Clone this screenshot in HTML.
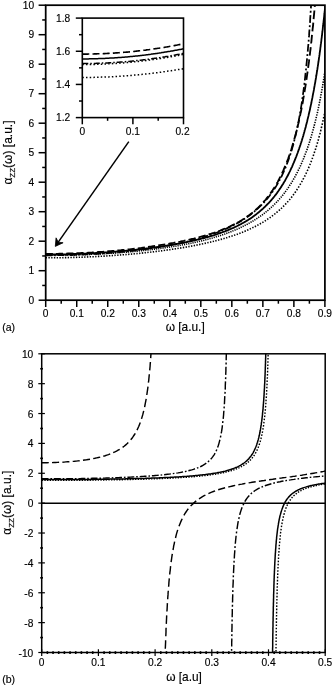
<!DOCTYPE html>
<html><head><meta charset="utf-8"><title>Polarizability plots</title>
<style>html,body{margin:0;padding:0;background:#fff;}svg{display:block;}.t text{font-family:"Liberation Sans",sans-serif;}</style></head>
<body><svg width="333" height="685" viewBox="0 0 333 685"><g id="plotA" fill="none" stroke="#000" stroke-linecap="butt">
<clipPath id="clipA"><rect x="45.7" y="5.2" width="279.2" height="295.0"/></clipPath>
<g clip-path="url(#clipA)">
<path d="M45.7,253.9L47.5,253.9L49.3,253.9L51.1,253.8L52.9,253.8M55.9,253.8L57.7,253.8L59.5,253.7L61.3,253.7L63.1,253.7M66.2,253.6L68.0,253.5L69.8,253.5L71.6,253.4L73.4,253.4M76.4,253.2L78.2,253.2L80.0,253.1L81.8,253.0L83.6,252.9M86.7,252.8L88.5,252.7L90.3,252.6L92.1,252.5L93.8,252.3M96.9,252.1L98.7,252.0L100.5,251.9L102.3,251.8L104.1,251.6M107.2,251.4L108.9,251.2L110.7,251.1L112.5,250.9L114.3,250.8M117.4,250.5L119.2,250.3L120.9,250.2L122.7,250.0L124.5,249.8M127.6,249.5L129.4,249.3L131.2,249.1L132.9,248.9L134.7,248.7M137.8,248.3L139.6,248.1L141.4,247.9L143.1,247.6L144.9,247.4M148.0,247.0L149.8,246.7L151.5,246.5L153.3,246.2L155.1,246.0M158.2,245.5L159.9,245.2L161.7,244.9L163.5,244.6L165.3,244.3M168.3,243.8L170.1,243.5L171.9,243.2L173.6,242.9L175.4,242.5M178.4,241.9L180.2,241.6L182.0,241.2L183.7,240.9L185.5,240.5M188.5,239.8L190.3,239.4L192.1,239.0L193.8,238.6L195.6,238.1M198.6,237.4L200.3,236.9L202.1,236.4L203.8,235.9L205.6,235.4M208.6,234.5L210.3,234.0L212.0,233.4L213.8,232.9L215.5,232.3M218.4,231.2L220.1,230.6L221.8,229.9L223.5,229.2L225.2,228.5M228.1,227.3L229.8,226.5L231.5,225.7L233.1,224.9L234.8,224.1M237.6,222.6L239.2,221.7L240.8,220.7L242.4,219.8L244.0,218.7M246.7,216.9L248.3,215.9L249.8,214.7L251.3,213.6L252.8,212.4M255.3,210.2L256.7,209.0L258.2,207.6L259.5,206.3L260.9,204.9M263.2,202.4L264.5,201.0L265.8,199.5L267.0,197.9L268.3,196.3M270.3,193.6L271.5,191.9L272.6,190.3L273.7,188.6L274.8,186.9M276.6,183.8L277.6,182.1L278.6,180.3L279.5,178.4L280.4,176.6M282.0,173.4L282.9,171.5L283.7,169.6L284.5,167.7L285.3,165.8M286.7,162.5L287.4,160.5L288.2,158.6L288.9,156.6L289.6,154.6M290.7,151.2L291.4,149.2L292.0,147.2L292.6,145.1L293.2,143.1M294.2,139.6L294.8,137.6L295.3,135.5L295.9,133.5L296.4,131.4M297.3,127.9L297.8,125.8L298.3,123.7L298.7,121.7L299.2,119.6M300.0,116.0L300.4,113.9L300.9,111.8L301.3,109.8L301.7,107.7M302.4,104.1L302.8,102.0L303.1,99.9L303.5,97.7L303.9,95.6M304.5,92.0L304.8,89.9L305.2,87.8L305.5,85.7L305.9,83.6M306.4,79.9L306.7,77.8L307.0,75.7L307.3,73.6L307.6,71.5M308.1,67.8L308.4,65.7L308.7,63.6L309.0,61.4L309.2,59.3M309.7,55.7L310.0,53.5L310.2,51.4L310.5,49.3L310.7,47.1M311.1,43.5L311.4,41.3L311.6,39.2L311.8,37.1L312.0,34.9M312.4,31.3L312.6,29.1L312.9,27.0L313.1,24.9L313.3,22.7M313.6,19.1L313.8,16.9L314.0,14.8L314.2,12.6L314.4,10.5M314.7,6.8L314.9,4.7L315.1,2.6L315.3,0.4L315.5,-1.7M315.8,-5.4L315.9,-7.4L316.1,-9.4L316.2,-11.4" stroke-width="1.85"/>
<path d="M45.7,255.3L47.3,255.3L48.9,255.3L50.6,255.3L52.2,255.3M54.2,255.3L55.8,255.3M57.8,255.2L59.4,255.2L61.0,255.2L62.7,255.2L64.3,255.1M66.3,255.1L67.9,255.0M69.9,255.0L71.5,255.0L73.1,254.9L74.7,254.8L76.4,254.8M78.4,254.7L79.9,254.7M81.9,254.6L83.6,254.5L85.2,254.4L86.8,254.4L88.4,254.3M90.4,254.2L92.0,254.1M94.0,254.0L95.6,253.9L97.3,253.8L98.9,253.7L100.5,253.6M102.5,253.5L104.1,253.4M106.1,253.2L107.7,253.1L109.3,253.0L110.9,252.9L112.6,252.7M114.6,252.6L116.1,252.4M118.1,252.3L119.8,252.1L121.4,252.0L123.0,251.8L124.6,251.6M126.6,251.4L128.2,251.3M130.2,251.1L131.8,250.9L133.4,250.7L135.0,250.5L136.7,250.3M138.6,250.1L140.2,249.9M142.2,249.7L143.8,249.4L145.4,249.2L147.1,249.0L148.7,248.8M150.7,248.5L152.2,248.3M154.2,248.0L155.8,247.7L157.4,247.5L159.0,247.2L160.7,247.0M162.6,246.6L164.2,246.3M166.2,246.0L167.8,245.7L169.4,245.4L171.0,245.1L172.6,244.8M174.6,244.4L176.1,244.1M178.1,243.7L179.7,243.3L181.3,243.0L182.9,242.6L184.5,242.3M186.5,241.8L188.0,241.4M190.0,240.9L191.6,240.5L193.1,240.1L194.7,239.7L196.3,239.3M198.3,238.7L199.8,238.3M201.8,237.7L203.3,237.2L204.9,236.7L206.5,236.2L208.0,235.7M210.0,235.1L211.5,234.6M213.4,233.9L215.0,233.3L216.5,232.7L218.1,232.1L219.6,231.5M221.5,230.8L223.0,230.1M224.9,229.3L226.4,228.6L227.9,227.9L229.4,227.2L230.9,226.5M232.8,225.6L234.2,224.8M236.1,223.8L237.5,223.0L239.0,222.2L240.5,221.3L241.9,220.4M243.7,219.3L245.1,218.4M246.8,217.2L248.2,216.2L249.6,215.2L251.0,214.2L252.3,213.1M254.0,211.8L255.3,210.7M256.9,209.3L258.2,208.1L259.5,206.9L260.8,205.7L262.0,204.5M263.5,202.9L264.7,201.6M266.1,200.0L267.3,198.6L268.4,197.2L269.6,195.8L270.6,194.3M272.0,192.5L273.0,191.1M274.2,189.2L275.2,187.7L276.2,186.1L277.1,184.5L278.1,182.9M279.2,180.9L280.0,179.3M281.1,177.3L281.9,175.6L282.7,173.9L283.5,172.2L284.3,170.5M285.2,168.3L285.9,166.6M286.7,164.5L287.4,162.7L288.1,160.9L288.7,159.1L289.3,157.3M290.1,155.1L290.7,153.3M291.4,151.1L291.9,149.2L292.4,147.4L293.0,145.5L293.5,143.7M294.1,141.4L294.5,139.6M295.1,137.3L295.6,135.4L296.0,133.5L296.4,131.7L296.9,129.8M297.4,127.4L297.7,125.6M298.2,123.3L298.6,121.4L298.9,119.5L299.3,117.6L299.6,115.7M300.1,113.3L300.4,111.5M300.8,109.1L301.1,107.2L301.4,105.3L301.7,103.4L302.0,101.4M302.3,99.1L302.6,97.2M302.9,94.8L303.2,92.9L303.5,91.0L303.7,89.1L304.0,87.1M304.3,84.8L304.5,82.9M304.8,80.5L305.0,78.6L305.2,76.6L305.4,74.7L305.6,72.8M305.9,70.4L306.1,68.5M306.3,66.1L306.5,64.2L306.7,62.3L306.9,60.3L307.1,58.4M307.3,56.0L307.5,54.1M307.7,51.7L307.9,49.8L308.0,47.8L308.2,45.9L308.4,44.0M308.6,41.6L308.7,39.7M308.9,37.3L309.1,35.4L309.2,33.4L309.3,31.5L309.5,29.5M309.7,27.1L309.8,25.2M310.0,22.9L310.1,20.9L310.2,19.0L310.3,17.0L310.5,15.1M310.6,12.7L310.7,10.8M310.9,8.4L311.0,6.4L311.1,4.5L311.2,2.6L311.3,0.6M311.5,-1.8L311.6,-3.7M311.7,-6.1L311.8,-8.1L311.9,-10.2L312.1,-12.2" stroke-width="1.75"/>
<path d="M45.7,254.5L46.5,254.5L47.4,254.5L48.2,254.5L49.1,254.5L49.9,254.5L50.7,254.5L51.6,254.5L52.4,254.5L53.2,254.5L54.1,254.5L54.9,254.4L55.8,254.4L56.6,254.4L57.4,254.4L58.3,254.4L59.1,254.4L59.9,254.4L60.8,254.4L61.6,254.3L62.5,254.3L63.3,254.3L64.1,254.3L65.0,254.3L65.8,254.3L66.7,254.2L67.5,254.2L68.3,254.2L69.2,254.2L70.0,254.2L70.8,254.1L71.7,254.1L72.5,254.1L73.4,254.0L74.2,254.0L75.0,254.0L75.9,254.0L76.7,253.9L77.5,253.9L78.4,253.9L79.2,253.8L80.1,253.8L80.9,253.8L81.7,253.7L82.6,253.7L83.4,253.7L84.2,253.6L85.1,253.6L85.9,253.6L86.8,253.5L87.6,253.5L88.4,253.4L89.3,253.4L90.1,253.4L91.0,253.3L91.8,253.3L92.6,253.2L93.5,253.2L94.3,253.1L95.1,253.1L96.0,253.0L96.8,253.0L97.7,252.9L98.5,252.9L99.3,252.8L100.2,252.8L101.0,252.7L101.8,252.7L102.7,252.6L103.5,252.6L104.4,252.5L105.2,252.4L106.0,252.4L106.9,252.3L107.7,252.3L108.6,252.2L109.4,252.1L110.2,252.1L111.1,252.0L111.9,251.9L112.7,251.9L113.6,251.8L114.4,251.7L115.3,251.7L116.1,251.6L116.9,251.5L117.8,251.5L118.6,251.4L119.4,251.3L120.3,251.3L121.1,251.2L122.0,251.1L122.8,251.0L123.6,251.0L124.5,250.9L125.3,250.8L126.1,250.7L127.0,250.6L127.8,250.6L128.7,250.5L129.5,250.4L130.3,250.3L131.2,250.2L132.0,250.1L132.9,250.0L133.7,250.0L134.5,249.9L135.4,249.8L136.2,249.7L137.0,249.6L137.9,249.5L138.7,249.4L139.6,249.3L140.4,249.2L141.2,249.1L142.1,249.0L142.9,248.9L143.7,248.8L144.6,248.7L145.4,248.6L146.3,248.5L147.1,248.4L147.9,248.3L148.8,248.2L149.6,248.1L150.5,248.0L151.3,247.9L152.1,247.8L153.0,247.7L153.8,247.6L154.6,247.4L155.5,247.3L156.3,247.2L157.2,247.1L158.0,247.0L158.8,246.9L159.7,246.7L160.5,246.6L161.3,246.5L162.2,246.4L163.0,246.2L163.9,246.1L164.7,246.0L165.5,245.8L166.4,245.7L167.2,245.6L168.1,245.4L168.9,245.3L169.7,245.2L170.6,245.0L171.4,244.9L172.2,244.8L173.1,244.6L173.9,244.5L174.8,244.3L175.6,244.2L176.4,244.0L177.3,243.9L178.1,243.7L178.9,243.6L179.8,243.4L180.6,243.2L181.5,243.1L182.3,242.9L183.1,242.8L184.0,242.6L184.8,242.4L185.6,242.3L186.5,242.1L187.3,241.9L188.2,241.7L189.0,241.6L189.8,241.4L190.7,241.2L191.5,241.0L192.4,240.8L193.2,240.6L194.0,240.5L194.9,240.3L195.7,240.1L196.5,239.9L197.4,239.7L198.2,239.5L199.1,239.3L199.9,239.1L200.7,238.8L201.6,238.6L202.4,238.4L203.2,238.2L204.1,238.0L204.9,237.8L205.8,237.5L206.6,237.3L207.4,237.1L208.3,236.8L209.1,236.6L210.0,236.3L210.8,236.1L211.6,235.8L212.5,235.6L213.3,235.3L214.1,235.1L215.0,234.8L215.8,234.5L216.7,234.3L217.5,234.0L218.3,233.7L219.2,233.4L220.0,233.1L220.8,232.8L221.7,232.5L222.5,232.2L223.4,231.9L224.2,231.6L225.0,231.3L225.9,230.9L226.7,230.6L227.6,230.3L228.4,229.9L229.2,229.6L230.1,229.2L230.9,228.9L231.7,228.5L232.6,228.1L233.4,227.8L234.3,227.4L235.1,227.0L235.9,226.6L236.8,226.2L237.6,225.8L238.4,225.4L239.3,224.9L240.1,224.5L241.0,224.1L241.8,223.6L242.6,223.1L243.5,222.7L244.2,222.3L244.9,221.9L245.6,221.5L246.3,221.0L247.0,220.6L247.7,220.2L248.4,219.8L249.1,219.3L249.8,218.9L250.5,218.4L251.2,217.9L251.9,217.4L252.6,217.0L253.2,216.5L253.9,216.0L254.6,215.5L255.3,214.9L256.0,214.4L256.7,213.9L257.4,213.3L258.1,212.8L258.8,212.2L259.5,211.6L260.2,211.0L260.9,210.4L261.6,209.8L262.3,209.2L263.0,208.6L263.7,207.9L264.4,207.3L265.1,206.6L265.8,205.9L266.5,205.2L267.2,204.5L267.8,203.9L268.3,203.4L268.9,202.8L269.5,202.2L270.0,201.5L270.6,200.9L271.1,200.3L271.7,199.6L272.2,199.0L272.8,198.3L273.4,197.6L273.9,197.0L274.5,196.3L275.0,195.5L275.6,194.8L276.2,194.1L276.7,193.3L277.3,192.6L277.8,191.8L278.4,191.0L278.9,190.2L279.5,189.4L280.1,188.6L280.6,187.7L281.2,186.9L281.7,186.0L282.3,185.1L282.9,184.2L283.3,183.5L283.7,182.8L284.1,182.1L284.5,181.4L285.0,180.7L285.4,179.9L285.8,179.2L286.2,178.4L286.6,177.6L287.0,176.9L287.5,176.1L287.9,175.3L288.3,174.5L288.7,173.6L289.1,172.8L289.6,171.9L290.0,171.1L290.4,170.2L290.8,169.3L291.2,168.4L291.7,167.5L292.1,166.6L292.5,165.6L292.9,164.7L293.3,163.7L293.8,162.7L294.2,161.7L294.6,160.7L295.0,159.7L295.4,158.6L295.8,157.6L296.3,156.5L296.7,155.4L297.1,154.3L297.4,153.5L297.7,152.8L297.9,152.0L298.2,151.2L298.5,150.4L298.8,149.6L299.1,148.8L299.3,148.0L299.6,147.2L299.9,146.4L300.2,145.5L300.5,144.7L300.7,143.8L301.0,143.0L301.3,142.1L301.6,141.2L301.9,140.3L302.1,139.4L302.4,138.5L302.7,137.6L303.0,136.6L303.3,135.7L303.5,134.7L303.8,133.8L304.1,132.8L304.4,131.8L304.6,130.8L304.9,129.8L305.2,128.7L305.5,127.7L305.8,126.7L306.0,125.6L306.3,124.5L306.6,123.4L306.9,122.3L307.2,121.2L307.4,120.1L307.7,118.9L308.0,117.8L308.3,116.6L308.6,115.4L308.8,114.2L309.1,113.0L309.4,111.8L309.7,110.6L310.0,109.3L310.2,108.0L310.5,106.7L310.8,105.4L311.1,104.1L311.4,102.8L311.6,101.4L311.9,100.0L312.2,98.6L312.5,97.2L312.7,95.8L313.0,94.3L313.3,92.9L313.6,91.4L313.9,89.9L314.1,88.3L314.4,86.8L314.7,85.2L314.8,84.4L315.0,83.6L315.1,82.8L315.3,82.0L315.4,81.2L315.5,80.4L315.7,79.6L315.8,78.7L316.0,77.9L316.1,77.0L316.2,76.2L316.4,75.3L316.5,74.5L316.7,73.6L316.8,72.7L316.9,71.9L317.1,71.0L317.2,70.1L317.4,69.2L317.5,68.3L317.6,67.4L317.8,66.4L317.9,65.5L318.1,64.6L318.2,63.7L318.3,62.7L318.5,61.8L318.6,60.8L318.8,59.8L318.9,58.9L319.0,57.9L319.2,56.9L319.3,55.9L319.5,54.9L319.6,53.9L319.7,52.9L319.9,51.8L320.0,50.8L320.2,49.8L320.3,48.7L320.4,47.7L320.6,46.6L320.7,45.5L320.8,44.4L321.0,43.4L321.1,42.3L321.3,41.2L321.4,40.0L321.5,38.9L321.7,37.8L321.8,36.7L322.0,35.5L322.1,34.3L322.2,33.2L322.4,32.0L322.5,30.8L322.7,29.6L322.8,28.4L322.9,27.2L323.1,26.0L323.2,24.7L323.4,23.5L323.5,22.2L323.6,21.0L323.8,19.7L323.9,18.4L324.1,17.1L324.2,15.8L324.3,14.5L324.5,13.2L324.6,11.8L324.8,10.5L324.9,9.1" stroke-width="1.8"/>
<path d="M45.7,255.3L46.9,255.3M47.9,255.3L49.0,255.3M50.0,255.3L51.2,255.3M52.2,255.3L53.4,255.3M54.4,255.3L55.5,255.3M56.5,255.3L57.7,255.3M58.7,255.2L59.9,255.2M60.9,255.2L62.0,255.2M63.0,255.2L64.2,255.2M65.2,255.2L66.4,255.1M67.4,255.1L68.5,255.1M69.5,255.1L70.7,255.0M71.7,255.0L72.9,255.0M73.9,255.0L75.0,254.9M76.0,254.9L77.2,254.9M78.2,254.8L79.4,254.8M80.4,254.8L81.5,254.7M82.5,254.7L83.7,254.6M84.7,254.6L85.9,254.6M86.9,254.5L88.0,254.5M89.0,254.4L90.2,254.4M91.2,254.3L92.4,254.3M93.4,254.2L94.5,254.2M95.5,254.1L96.7,254.1M97.7,254.0L98.9,254.0M99.8,253.9L101.0,253.9M102.0,253.8L103.2,253.7M104.2,253.7L105.3,253.6M106.3,253.6L107.5,253.5M108.5,253.4L109.7,253.3M110.7,253.3L111.8,253.2M112.8,253.1L114.0,253.1M115.0,253.0L116.2,252.9M117.2,252.8L118.3,252.8M119.3,252.7L120.5,252.6M121.5,252.5L122.6,252.4M123.6,252.3L124.8,252.2M125.8,252.2L127.0,252.1M128.0,252.0L129.1,251.9M130.1,251.8L131.3,251.7M132.3,251.6L133.5,251.5M134.5,251.4L135.6,251.3M136.6,251.2L137.8,251.1M138.8,251.0L139.9,250.8M140.9,250.7L142.1,250.6M143.1,250.5L144.2,250.4M145.2,250.3L146.4,250.2M147.4,250.0L148.6,249.9M149.6,249.8L150.7,249.7M151.7,249.5L152.9,249.4M153.9,249.3L155.0,249.1M156.0,249.0L157.2,248.8M158.2,248.7L159.3,248.6M160.3,248.4L161.5,248.3M162.5,248.1L163.6,248.0M164.6,247.8L165.8,247.7M166.8,247.5L167.9,247.3M168.9,247.2L170.1,247.0M171.1,246.8L172.2,246.7M173.2,246.5L174.4,246.3M175.4,246.2L176.5,246.0M177.5,245.8L178.7,245.6M179.7,245.4L180.8,245.2M181.8,245.0L183.0,244.8M184.0,244.6L185.1,244.4M186.1,244.2L187.2,244.0M188.2,243.8L189.4,243.6M190.4,243.4L191.5,243.1M192.5,242.9L193.6,242.7M194.6,242.5L195.8,242.2M196.8,242.0L197.9,241.7M198.9,241.5L200.0,241.2M201.0,241.0L202.2,240.7M203.1,240.5L204.3,240.2M205.3,239.9L206.4,239.6M207.4,239.4L208.5,239.1M209.5,238.8L210.6,238.5M211.6,238.2L212.7,237.9M213.7,237.6L214.8,237.3M215.8,237.0L216.9,236.6M217.9,236.3L219.0,236.0M220.0,235.7L221.1,235.3M222.1,235.0L223.2,234.6M224.2,234.3L225.3,233.9M226.2,233.5L227.4,233.1M228.3,232.8L229.4,232.3M230.4,232.0L231.5,231.5M232.4,231.1L233.5,230.7M234.5,230.3L235.6,229.8M236.5,229.4L237.6,229.0M238.6,228.5L239.7,228.0M240.6,227.6L241.7,227.1M242.6,226.6L243.7,226.1M244.6,225.6L245.7,225.1M246.6,224.6L247.7,224.0M248.6,223.5L249.6,223.0M250.5,222.4L251.6,221.8M252.5,221.3L253.5,220.7M254.4,220.1L255.4,219.5M256.3,218.9L257.4,218.3M258.2,217.7L259.2,217.0M260.1,216.4L261.1,215.7M262.0,215.0L263.0,214.3M263.8,213.7L264.8,212.9M265.6,212.2L266.6,211.5M267.4,210.8L268.4,210.0M269.2,209.3L270.1,208.4M270.9,207.7L271.8,206.9M272.6,206.1L273.5,205.3M274.3,204.5L275.2,203.6M276.0,202.8L276.9,201.9M277.6,201.1L278.5,200.2M279.2,199.3L280.0,198.4M280.8,197.5L281.6,196.6M282.3,195.7L283.1,194.7M283.8,193.8L284.6,192.8M285.2,191.9L286.0,190.9M286.7,189.9L287.4,188.9M288.1,188.0L288.8,186.9M289.4,185.9L290.1,184.8M290.8,183.9L291.5,182.8M292.0,181.8L292.7,180.7M293.3,179.7L294.0,178.5M294.5,177.5L295.2,176.4M295.7,175.4L296.3,174.2M296.9,173.2L297.5,172.0M298.0,170.9L298.6,169.7M299.1,168.7L299.7,167.5M300.2,166.4L300.7,165.2M301.2,164.1L301.7,162.9M302.2,161.8L302.7,160.6M303.2,159.5L303.7,158.3M304.1,157.2L304.6,155.9M305.0,154.8L305.5,153.6M305.9,152.5L306.4,151.2M306.8,150.1L307.3,148.8M307.6,147.7L308.1,146.4M308.5,145.3L308.9,144.0M309.3,142.9L309.7,141.5M310.0,140.4L310.4,139.1M310.8,138.0L311.2,136.7M311.5,135.5L311.9,134.2M312.2,133.1L312.6,131.8M312.9,130.6L313.3,129.3M313.6,128.1L313.9,126.8M314.2,125.7L314.6,124.3M314.9,123.2L315.2,121.8M315.5,120.7L315.8,119.3M316.1,118.2L316.4,116.8M316.7,115.7L317.0,114.3M317.3,113.2L317.6,111.8M317.8,110.7L318.1,109.3M318.4,108.2L318.6,106.8M318.9,105.6L319.2,104.3M319.4,103.1L319.7,101.7M319.9,100.6L320.2,99.2M320.4,98.0L320.7,96.7M320.9,95.5L321.1,94.1M321.4,93.0L321.6,91.6M321.8,90.4L322.1,89.1M322.3,87.9L322.5,86.5M322.7,85.3L322.9,84.0M323.1,82.8L323.3,81.4M323.5,80.2L323.8,78.9M323.9,77.7L324.2,76.3M324.3,75.1L324.6,73.8M324.7,72.6L324.9,71.4" stroke-width="1.6"/>
<path d="M45.7,257.8L47.0,257.8M48.4,257.8L49.8,257.8M51.2,257.8L52.5,257.8M53.9,257.8L55.3,257.8M56.7,257.7L58.0,257.7M59.4,257.7L60.8,257.7M62.2,257.7L63.5,257.6M64.9,257.6L66.3,257.6M67.7,257.6L69.0,257.5M70.4,257.5L71.8,257.5M73.2,257.4L74.5,257.4M75.9,257.4L77.3,257.3M78.7,257.3L80.0,257.2M81.4,257.2L82.8,257.1M84.2,257.1L85.5,257.0M86.9,257.0L88.3,256.9M89.7,256.8L91.0,256.8M92.4,256.7L93.8,256.7M95.2,256.6L96.5,256.5M97.9,256.4L99.3,256.4M100.7,256.3L102.0,256.2M103.4,256.1L104.8,256.1M106.2,256.0L107.5,255.9M108.9,255.8L110.3,255.7M111.7,255.6L113.0,255.5M114.4,255.4L115.7,255.3M117.2,255.2L118.5,255.1M119.9,255.0L121.2,254.9M122.6,254.8L124.0,254.7M125.4,254.6L126.7,254.5M128.1,254.4L129.5,254.3M130.9,254.1L132.2,254.0M133.6,253.9L134.9,253.8M136.4,253.6L137.7,253.5M139.1,253.4L140.4,253.2M141.8,253.1L143.2,252.9M144.6,252.8L145.9,252.6M147.3,252.5L148.6,252.3M150.1,252.2L151.4,252.0M152.8,251.9L154.1,251.7M155.5,251.5L156.9,251.4M158.3,251.2L159.6,251.0M161.0,250.9L162.3,250.7M163.7,250.5L165.1,250.3M166.5,250.1L167.8,249.9M169.2,249.7L170.5,249.6M171.9,249.3L173.3,249.1M174.7,248.9L176.0,248.7M177.4,248.5L178.7,248.3M180.1,248.1L181.4,247.9M182.8,247.6L184.2,247.4M185.6,247.2L186.9,246.9M188.3,246.7L189.6,246.4M191.0,246.2L192.3,245.9M193.7,245.7L195.0,245.4M196.4,245.1L197.7,244.9M199.1,244.6L200.5,244.3M201.8,244.0L203.2,243.7M204.6,243.4L205.9,243.1M207.3,242.8L208.6,242.5M210.0,242.2L211.3,241.9M212.7,241.5L214.0,241.2M215.3,240.9L216.6,240.5M218.0,240.2L219.3,239.8M220.7,239.4L222.0,239.1M223.4,238.7L224.7,238.3M226.1,237.9L227.3,237.5M228.7,237.0L230.0,236.6M231.4,236.2L232.7,235.8M234.0,235.3L235.3,234.9M236.7,234.4L237.9,233.9M239.3,233.4L240.6,232.9M241.9,232.4L243.2,231.9M244.5,231.4L245.8,230.8M247.1,230.3L248.4,229.7M249.7,229.1L250.9,228.5M252.3,227.9L253.5,227.3M254.8,226.7L256.0,226.0M257.3,225.4L258.5,224.7M259.8,224.0L261.0,223.3M262.3,222.6L263.5,221.8M264.8,221.1L265.9,220.3M267.2,219.5L268.3,218.7M269.6,217.9L270.7,217.1M271.9,216.2L273.1,215.4M274.3,214.4L275.4,213.5M276.5,212.6L277.6,211.7M278.8,210.7L279.9,209.7M281.0,208.7L282.0,207.7M283.1,206.6L284.1,205.6M285.2,204.5L286.2,203.4M287.3,202.3L288.2,201.2M289.3,200.0L290.2,198.9M291.2,197.7L292.1,196.5M293.1,195.2L293.9,194.0M294.9,192.8L295.7,191.5M296.6,190.2L297.4,189.0M298.3,187.6L299.1,186.3M299.9,184.9L300.7,183.6M301.5,182.2L302.3,180.9M303.0,179.5L303.7,178.1M304.5,176.7L305.2,175.3M305.9,173.8L306.5,172.5M307.2,171.0L307.9,169.6M308.5,168.1L309.1,166.6M309.8,165.1L310.3,163.7M310.9,162.1L311.5,160.7M312.1,159.1L312.6,157.7M313.2,156.1L313.7,154.6M314.2,153.1L314.7,151.6M315.3,150.0L315.7,148.5M316.2,146.9L316.7,145.4M317.2,143.8L317.6,142.3M318.1,140.7L318.5,139.2M318.9,137.6L319.3,136.0M319.8,134.4L320.2,132.9M320.6,131.3L320.9,129.7M321.3,128.1L321.7,126.5M322.1,124.9L322.4,123.4M322.8,121.7L323.1,120.2M323.5,118.5L323.8,117.0M324.2,115.3L324.5,113.8M324.8,112.1L324.9,111.7" stroke-width="1.6"/>
</g>
<rect x="45.7" y="5.2" width="279.2" height="295.0" stroke-width="1.75"/>
<line x1="38.60" y1="300.20" x2="45.70" y2="300.20" stroke-width="1.5"/>
<line x1="42.20" y1="285.45" x2="45.70" y2="285.45" stroke-width="1.5"/>
<line x1="38.60" y1="270.70" x2="45.70" y2="270.70" stroke-width="1.5"/>
<line x1="42.20" y1="255.95" x2="45.70" y2="255.95" stroke-width="1.5"/>
<line x1="38.60" y1="241.20" x2="45.70" y2="241.20" stroke-width="1.5"/>
<line x1="42.20" y1="226.45" x2="45.70" y2="226.45" stroke-width="1.5"/>
<line x1="38.60" y1="211.70" x2="45.70" y2="211.70" stroke-width="1.5"/>
<line x1="42.20" y1="196.95" x2="45.70" y2="196.95" stroke-width="1.5"/>
<line x1="38.60" y1="182.20" x2="45.70" y2="182.20" stroke-width="1.5"/>
<line x1="42.20" y1="167.45" x2="45.70" y2="167.45" stroke-width="1.5"/>
<line x1="38.60" y1="152.70" x2="45.70" y2="152.70" stroke-width="1.5"/>
<line x1="42.20" y1="137.95" x2="45.70" y2="137.95" stroke-width="1.5"/>
<line x1="38.60" y1="123.20" x2="45.70" y2="123.20" stroke-width="1.5"/>
<line x1="42.20" y1="108.45" x2="45.70" y2="108.45" stroke-width="1.5"/>
<line x1="38.60" y1="93.70" x2="45.70" y2="93.70" stroke-width="1.5"/>
<line x1="42.20" y1="78.95" x2="45.70" y2="78.95" stroke-width="1.5"/>
<line x1="38.60" y1="64.20" x2="45.70" y2="64.20" stroke-width="1.5"/>
<line x1="42.20" y1="49.45" x2="45.70" y2="49.45" stroke-width="1.5"/>
<line x1="38.60" y1="34.70" x2="45.70" y2="34.70" stroke-width="1.5"/>
<line x1="42.20" y1="19.95" x2="45.70" y2="19.95" stroke-width="1.5"/>
<line x1="38.60" y1="5.20" x2="45.70" y2="5.20" stroke-width="1.5"/>
<line x1="45.70" y1="300.20" x2="45.70" y2="307.00" stroke-width="1.5"/>
<line x1="61.21" y1="300.20" x2="61.21" y2="303.70" stroke-width="1.5"/>
<line x1="76.72" y1="300.20" x2="76.72" y2="307.00" stroke-width="1.5"/>
<line x1="92.23" y1="300.20" x2="92.23" y2="303.70" stroke-width="1.5"/>
<line x1="107.74" y1="300.20" x2="107.74" y2="307.00" stroke-width="1.5"/>
<line x1="123.26" y1="300.20" x2="123.26" y2="303.70" stroke-width="1.5"/>
<line x1="138.77" y1="300.20" x2="138.77" y2="307.00" stroke-width="1.5"/>
<line x1="154.28" y1="300.20" x2="154.28" y2="303.70" stroke-width="1.5"/>
<line x1="169.79" y1="300.20" x2="169.79" y2="307.00" stroke-width="1.5"/>
<line x1="185.30" y1="300.20" x2="185.30" y2="303.70" stroke-width="1.5"/>
<line x1="200.81" y1="300.20" x2="200.81" y2="307.00" stroke-width="1.5"/>
<line x1="216.32" y1="300.20" x2="216.32" y2="303.70" stroke-width="1.5"/>
<line x1="231.83" y1="300.20" x2="231.83" y2="307.00" stroke-width="1.5"/>
<line x1="247.34" y1="300.20" x2="247.34" y2="303.70" stroke-width="1.5"/>
<line x1="262.86" y1="300.20" x2="262.86" y2="307.00" stroke-width="1.5"/>
<line x1="278.37" y1="300.20" x2="278.37" y2="303.70" stroke-width="1.5"/>
<line x1="293.88" y1="300.20" x2="293.88" y2="307.00" stroke-width="1.5"/>
<line x1="309.39" y1="300.20" x2="309.39" y2="303.70" stroke-width="1.5"/>
<line x1="324.90" y1="300.20" x2="324.90" y2="307.00" stroke-width="1.5"/>
</g>
<g class="t" fill="#000" stroke="#000" stroke-width="0.15">
<text transform="translate(34.20,303.90)" font-size="10.2" text-anchor="end">0</text>
<text transform="translate(34.20,274.40)" font-size="10.2" text-anchor="end">1</text>
<text transform="translate(34.20,244.90)" font-size="10.2" text-anchor="end">2</text>
<text transform="translate(34.20,215.40)" font-size="10.2" text-anchor="end">3</text>
<text transform="translate(34.20,185.90)" font-size="10.2" text-anchor="end">4</text>
<text transform="translate(34.20,156.40)" font-size="10.2" text-anchor="end">5</text>
<text transform="translate(34.20,126.90)" font-size="10.2" text-anchor="end">6</text>
<text transform="translate(34.20,97.40)" font-size="10.2" text-anchor="end">7</text>
<text transform="translate(34.20,67.90)" font-size="10.2" text-anchor="end">8</text>
<text transform="translate(34.20,38.40)" font-size="10.2" text-anchor="end">9</text>
<text transform="translate(34.20,8.90)" font-size="10.2" text-anchor="end">10</text>
<text transform="translate(45.70,317.40)" font-size="10.2" text-anchor="middle">0</text>
<text transform="translate(76.72,317.40)" font-size="10.2" text-anchor="middle">0.1</text>
<text transform="translate(107.74,317.40)" font-size="10.2" text-anchor="middle">0.2</text>
<text transform="translate(138.77,317.40)" font-size="10.2" text-anchor="middle">0.3</text>
<text transform="translate(169.79,317.40)" font-size="10.2" text-anchor="middle">0.4</text>
<text transform="translate(200.81,317.40)" font-size="10.2" text-anchor="middle">0.5</text>
<text transform="translate(231.83,317.40)" font-size="10.2" text-anchor="middle">0.6</text>
<text transform="translate(262.86,317.40)" font-size="10.2" text-anchor="middle">0.7</text>
<text transform="translate(293.88,317.40)" font-size="10.2" text-anchor="middle">0.8</text>
<text transform="translate(324.90,317.40)" font-size="10.2" text-anchor="middle">0.9</text>
</g>
<g id="inset" fill="none" stroke="#000">
<clipPath id="clipI"><rect x="82.3" y="18.1" width="101.2" height="99.5"/></clipPath>
<g clip-path="url(#clipI)">
<path d="M82.3,54.1L83.3,54.1L84.3,54.1L85.4,54.1L86.4,54.1L87.4,54.1L88.4,54.0L89.5,54.0L90.5,54.0L91.5,54.0L92.5,54.0L93.5,54.0L94.6,53.9L95.6,53.9L96.6,53.9L97.6,53.8L98.7,53.8L99.7,53.8L100.7,53.7L101.7,53.7L102.7,53.7L103.8,53.6L104.8,53.6L105.8,53.5L106.8,53.5L107.9,53.4L108.9,53.4L109.9,53.3L110.9,53.3L111.9,53.2L113.0,53.1L114.0,53.1L115.0,53.0L116.0,52.9L117.1,52.9L118.1,52.8L119.1,52.7L120.1,52.6L121.1,52.6L122.2,52.5L123.2,52.4L124.2,52.3L125.2,52.2L126.3,52.1L127.3,52.1L128.3,52.0L129.3,51.9L130.3,51.8L131.4,51.7L132.4,51.6L133.4,51.5L134.4,51.4L135.5,51.2L136.5,51.1L137.5,51.0L138.5,50.9L139.5,50.8L140.6,50.7L141.6,50.6L142.6,50.4L143.6,50.3L144.7,50.2L145.7,50.1L146.7,49.9L147.7,49.8L148.7,49.7L149.8,49.5L150.8,49.4L151.8,49.2L152.8,49.1L153.9,48.9L154.9,48.8L155.9,48.6L156.9,48.5L157.9,48.3L159.0,48.2L160.0,48.0L161.0,47.9L162.0,47.7L163.1,47.5L164.1,47.4L165.1,47.2L166.1,47.0L167.1,46.9L168.2,46.7L169.2,46.5L170.2,46.3L171.2,46.1L172.3,46.0L173.3,45.8L174.3,45.6L175.3,45.4L176.3,45.2L177.4,45.0L178.4,44.8L179.4,44.6L180.4,44.4L181.5,44.2L182.5,44.0L183.5,43.8" stroke-width="1.6" stroke-dasharray="7,3.2"/>
<path d="M82.3,58.9L83.3,58.9L84.3,58.9L85.4,58.9L86.4,58.9L87.4,58.9L88.4,58.9L89.5,58.8L90.5,58.8L91.5,58.8L92.5,58.8L93.5,58.8L94.6,58.7L95.6,58.7L96.6,58.7L97.6,58.7L98.7,58.6L99.7,58.6L100.7,58.6L101.7,58.5L102.7,58.5L103.8,58.4L104.8,58.4L105.8,58.3L106.8,58.3L107.9,58.2L108.9,58.2L109.9,58.1L110.9,58.1L111.9,58.0L113.0,58.0L114.0,57.9L115.0,57.8L116.0,57.8L117.1,57.7L118.1,57.6L119.1,57.6L120.1,57.5L121.1,57.4L122.2,57.3L123.2,57.2L124.2,57.2L125.2,57.1L126.3,57.0L127.3,56.9L128.3,56.8L129.3,56.7L130.3,56.6L131.4,56.5L132.4,56.4L133.4,56.3L134.4,56.2L135.5,56.1L136.5,56.0L137.5,55.9L138.5,55.8L139.5,55.7L140.6,55.5L141.6,55.4L142.6,55.3L143.6,55.2L144.7,55.1L145.7,54.9L146.7,54.8L147.7,54.7L148.7,54.5L149.8,54.4L150.8,54.3L151.8,54.1L152.8,54.0L153.9,53.8L154.9,53.7L155.9,53.5L156.9,53.4L157.9,53.2L159.0,53.1L160.0,52.9L161.0,52.8L162.0,52.6L163.1,52.5L164.1,52.3L165.1,52.1L166.1,52.0L167.1,51.8L168.2,51.6L169.2,51.4L170.2,51.3L171.2,51.1L172.3,50.9L173.3,50.7L174.3,50.5L175.3,50.3L176.3,50.2L177.4,50.0L178.4,49.8L179.4,49.6L180.4,49.4L181.5,49.2L182.5,49.0L183.5,48.8" stroke-width="1.5"/>
<path d="M82.3,63.5L83.3,63.5L84.3,63.5L85.4,63.5L86.4,63.5L87.4,63.5L88.4,63.5L89.5,63.5L90.5,63.5L91.5,63.5L92.5,63.4L93.5,63.4L94.6,63.4L95.6,63.4L96.6,63.3L97.6,63.3L98.7,63.3L99.7,63.2L100.7,63.2L101.7,63.2L102.7,63.1L103.8,63.1L104.8,63.0L105.8,63.0L106.8,62.9L107.9,62.9L108.9,62.8L109.9,62.8L110.9,62.7L111.9,62.7L113.0,62.6L114.0,62.5L115.0,62.5L116.0,62.4L117.1,62.3L118.1,62.3L119.1,62.2L120.1,62.1L121.1,62.0L122.2,62.0L123.2,61.9L124.2,61.8L125.2,61.7L126.3,61.6L127.3,61.5L128.3,61.4L129.3,61.4L130.3,61.3L131.4,61.2L132.4,61.1L133.4,61.0L134.4,60.9L135.5,60.7L136.5,60.6L137.5,60.5L138.5,60.4L139.5,60.3L140.6,60.2L141.6,60.1L142.6,59.9L143.6,59.8L144.7,59.7L145.7,59.6L146.7,59.4L147.7,59.3L148.7,59.2L149.8,59.0L150.8,58.9L151.8,58.8L152.8,58.6L153.9,58.5L154.9,58.3L155.9,58.2L156.9,58.0L157.9,57.9L159.0,57.7L160.0,57.6L161.0,57.4L162.0,57.3L163.1,57.1L164.1,56.9L165.1,56.8L166.1,56.6L167.1,56.4L168.2,56.3L169.2,56.1L170.2,55.9L171.2,55.7L172.3,55.5L173.3,55.4L174.3,55.2L175.3,55.0L176.3,54.8L177.4,54.6L178.4,54.4L179.4,54.2L180.4,54.0L181.5,53.8L182.5,53.6L183.5,53.4" stroke-width="1.5" stroke-dasharray="6,2,1.5,2"/>
<path d="M82.3,64.5L83.3,64.5L84.3,64.5L85.4,64.5L86.4,64.5L87.4,64.5L88.4,64.5L89.5,64.5L90.5,64.5L91.5,64.4L92.5,64.4L93.5,64.4L94.6,64.4L95.6,64.4L96.6,64.3L97.6,64.3L98.7,64.3L99.7,64.2L100.7,64.2L101.7,64.2L102.7,64.1L103.8,64.1L104.8,64.0L105.8,64.0L106.8,63.9L107.9,63.9L108.9,63.8L109.9,63.8L110.9,63.7L111.9,63.7L113.0,63.6L114.0,63.5L115.0,63.5L116.0,63.4L117.1,63.3L118.1,63.3L119.1,63.2L120.1,63.1L121.1,63.0L122.2,63.0L123.2,62.9L124.2,62.8L125.2,62.7L126.3,62.6L127.3,62.5L128.3,62.4L129.3,62.3L130.3,62.3L131.4,62.2L132.4,62.1L133.4,62.0L134.4,61.8L135.5,61.7L136.5,61.6L137.5,61.5L138.5,61.4L139.5,61.3L140.6,61.2L141.6,61.1L142.6,60.9L143.6,60.8L144.7,60.7L145.7,60.6L146.7,60.4L147.7,60.3L148.7,60.2L149.8,60.0L150.8,59.9L151.8,59.8L152.8,59.6L153.9,59.5L154.9,59.3L155.9,59.2L156.9,59.0L157.9,58.9L159.0,58.7L160.0,58.6L161.0,58.4L162.0,58.3L163.1,58.1L164.1,57.9L165.1,57.8L166.1,57.6L167.1,57.4L168.2,57.3L169.2,57.1L170.2,56.9L171.2,56.7L172.3,56.5L173.3,56.4L174.3,56.2L175.3,56.0L176.3,55.8L177.4,55.6L178.4,55.4L179.4,55.2L180.4,55.0L181.5,54.8L182.5,54.6L183.5,54.4" stroke-width="1.5" stroke-dasharray="1.5,2.2"/>
<path d="M82.3,77.5L83.3,77.5L84.3,77.5L85.4,77.5L86.4,77.5L87.4,77.4L88.4,77.4L89.5,77.4L90.5,77.4L91.5,77.4L92.5,77.4L93.5,77.4L94.6,77.3L95.6,77.3L96.6,77.3L97.6,77.3L98.7,77.2L99.7,77.2L100.7,77.2L101.7,77.1L102.7,77.1L103.8,77.1L104.8,77.0L105.8,77.0L106.8,77.0L107.9,76.9L108.9,76.9L109.9,76.8L110.9,76.8L111.9,76.7L113.0,76.7L114.0,76.6L115.0,76.6L116.0,76.5L117.1,76.4L118.1,76.4L119.1,76.3L120.1,76.2L121.1,76.2L122.2,76.1L123.2,76.0L124.2,76.0L125.2,75.9L126.3,75.8L127.3,75.7L128.3,75.7L129.3,75.6L130.3,75.5L131.4,75.4L132.4,75.3L133.4,75.2L134.4,75.1L135.5,75.0L136.5,74.9L137.5,74.9L138.5,74.8L139.5,74.7L140.6,74.6L141.6,74.5L142.6,74.3L143.6,74.2L144.7,74.1L145.7,74.0L146.7,73.9L147.7,73.8L148.7,73.7L149.8,73.6L150.8,73.4L151.8,73.3L152.8,73.2L153.9,73.1L154.9,72.9L155.9,72.8L156.9,72.7L157.9,72.6L159.0,72.4L160.0,72.3L161.0,72.2L162.0,72.0L163.1,71.9L164.1,71.7L165.1,71.6L166.1,71.4L167.1,71.3L168.2,71.1L169.2,71.0L170.2,70.8L171.2,70.7L172.3,70.5L173.3,70.4L174.3,70.2L175.3,70.0L176.3,69.9L177.4,69.7L178.4,69.5L179.4,69.4L180.4,69.2L181.5,69.0L182.5,68.9L183.5,68.7" stroke-width="1.5" stroke-dasharray="1.5,2.2"/>
</g>
<rect x="82.3" y="18.1" width="101.2" height="99.5" stroke-width="1.6"/>
<line x1="75.80" y1="117.60" x2="82.30" y2="117.60" stroke-width="1.5"/>
<line x1="79.00" y1="101.02" x2="82.30" y2="101.02" stroke-width="1.5"/>
<line x1="75.80" y1="84.43" x2="82.30" y2="84.43" stroke-width="1.5"/>
<line x1="79.00" y1="67.85" x2="82.30" y2="67.85" stroke-width="1.5"/>
<line x1="75.80" y1="51.27" x2="82.30" y2="51.27" stroke-width="1.5"/>
<line x1="79.00" y1="34.68" x2="82.30" y2="34.68" stroke-width="1.5"/>
<line x1="75.80" y1="18.10" x2="82.30" y2="18.10" stroke-width="1.5"/>
<line x1="82.30" y1="117.60" x2="82.30" y2="124.30" stroke-width="1.5"/>
<line x1="107.60" y1="117.60" x2="107.60" y2="120.80" stroke-width="1.5"/>
<line x1="132.90" y1="117.60" x2="132.90" y2="124.30" stroke-width="1.5"/>
<line x1="158.20" y1="117.60" x2="158.20" y2="120.80" stroke-width="1.5"/>
<line x1="183.50" y1="117.60" x2="183.50" y2="124.30" stroke-width="1.5"/>
<line x1="128.8" y1="141.6" x2="57.02" y2="243.94" stroke-width="1.5"/>
<polygon points="55.30,246.40 63.10,242.77 58.29,242.14 56.06,237.83" fill="#000" stroke-width="0.8" stroke-linejoin="miter"/>
</g>
<g class="t" fill="#000" stroke="#000" stroke-width="0.15">
<text transform="translate(70.20,121.30)" font-size="10.2" text-anchor="end">1.2</text>
<text transform="translate(70.20,88.13)" font-size="10.2" text-anchor="end">1.4</text>
<text transform="translate(70.20,54.97)" font-size="10.2" text-anchor="end">1.6</text>
<text transform="translate(70.20,21.80)" font-size="10.2" text-anchor="end">1.8</text>
<text transform="translate(82.30,134.90)" font-size="10.2" text-anchor="middle">0</text>
<text transform="translate(132.90,134.90)" font-size="10.2" text-anchor="middle">0.1</text>
<text transform="translate(182.50,134.90)" font-size="10.2" text-anchor="middle">0.2</text>
</g>
<g class="t" fill="#000" stroke="#000" stroke-width="0.15">
<text transform="translate(11.90,184.60) rotate(-90)" font-size="12" text-anchor="start">α<tspan font-size="8" dy="2.6">ZZ</tspan><tspan dy="-2.6">(ω) [a.u.]</tspan></text>
<text transform="translate(185.20,330.80)" font-size="11.9" text-anchor="middle">ω [a.u.]</text>
<text transform="translate(2.20,330.80)" font-size="10.5" text-anchor="start">(a)</text>
</g>
<g id="plotB" fill="none" stroke="#000">
<clipPath id="clipB"><rect x="41.7" y="353.8" width="283.5" height="298.7"/></clipPath>
<g clip-path="url(#clipB)">
<path d="M41.7,462.7L43.5,462.7L45.2,462.7L47.0,462.7L48.8,462.6M52.0,462.6L53.8,462.5L55.6,462.5L57.3,462.4L59.1,462.3M62.4,462.2L64.1,462.1L65.9,461.9L67.7,461.8L69.4,461.7M72.7,461.4L74.4,461.3L76.2,461.1L78.0,460.9L79.7,460.7M83.0,460.3L84.7,460.0L86.5,459.8L88.2,459.5L90.0,459.2M93.2,458.6L94.9,458.3L96.7,457.9L98.4,457.5L100.2,457.1M103.3,456.2L105.1,455.7L106.8,455.1L108.5,454.6L110.2,453.9M113.2,452.7L114.9,451.9L116.5,451.1L118.1,450.2L119.7,449.3M122.6,447.4L124.1,446.3L125.5,445.1L127.0,443.8L128.3,442.5M130.7,439.8L132.0,438.3L133.1,436.7L134.2,435.0L135.3,433.3M137.0,430.1L137.9,428.2L138.8,426.3L139.5,424.4L140.3,422.5M141.5,418.9L142.1,416.9L142.7,414.9L143.2,412.9L143.7,410.8M144.6,407.1L145.0,405.0L145.4,402.9L145.8,400.9L146.2,398.8M146.8,395.0L147.1,392.9L147.4,390.8L147.7,388.7L148.0,386.6M148.4,382.7L148.7,380.6L148.9,378.5L149.1,376.4L149.3,374.3M149.7,370.4L149.9,368.3L150.1,366.2L150.2,364.1L150.4,362.0M150.7,358.1L150.8,355.9L151.0,353.8L151.1,351.7L151.3,349.6M151.5,345.7L151.5,345.0" stroke-width="1.45"/>
<path d="M164.9,661.1L165.0,658.9L165.1,656.8L165.1,654.7L165.2,652.6M165.3,648.7L165.4,646.6L165.5,644.4L165.6,642.3L165.6,640.2M165.8,636.3L165.9,634.2L166.0,632.0L166.0,629.9L166.1,627.8M166.3,623.9L166.4,621.8L166.5,619.7L166.6,617.5L166.7,615.4M166.9,611.5L167.1,609.4L167.2,607.3L167.3,605.2L167.4,603.1M167.7,599.2L167.8,597.0L168.0,594.9L168.1,592.8L168.3,590.7M168.6,586.8L168.8,584.7L168.9,582.6L169.1,580.5L169.3,578.4M169.7,574.5L169.9,572.4L170.2,570.3L170.4,568.2L170.6,566.1M171.1,562.2L171.4,560.1L171.7,558.0L172.0,555.9L172.3,553.8M173.0,550.0L173.4,547.9L173.7,545.9L174.2,543.8L174.6,541.7M175.5,538.0L176.0,535.9L176.5,533.9L177.1,531.9L177.7,529.9M179.0,526.3L179.7,524.4L180.5,522.5L181.3,520.6L182.2,518.7M183.9,515.4L184.9,513.7L186.0,512.0L187.1,510.4L188.3,508.8M190.6,506.1L192.0,504.7L193.4,503.4L194.8,502.1L196.2,500.9M199.0,498.8L200.6,497.8L202.1,496.9L203.7,495.9L205.4,495.1M208.4,493.6L210.0,492.9L211.7,492.2L213.4,491.5L215.1,490.9M218.2,489.8L219.9,489.3L221.6,488.8L223.4,488.3L225.1,487.8M228.3,487.0L230.0,486.6L231.7,486.2L233.5,485.8L235.2,485.4M238.4,484.7L240.2,484.4L241.9,484.1L243.7,483.7L245.4,483.4M248.6,482.9L250.4,482.6L252.1,482.3L253.9,482.0L255.7,481.7M258.9,481.2L260.6,481.0L262.4,480.7L264.2,480.5L265.9,480.2M269.1,479.8L270.9,479.5L272.7,479.3L274.4,479.0L276.2,478.8M279.4,478.3L281.2,478.1L282.9,477.8L284.7,477.6L286.4,477.4M289.7,476.9L291.4,476.7L293.2,476.4L294.9,476.2L296.7,475.9M299.9,475.4L301.7,475.2L303.4,474.9L305.2,474.6L307.0,474.3M310.2,473.8L311.9,473.5L313.7,473.2L315.4,472.9L317.2,472.6M320.4,472.0L322.0,471.7L323.6,471.4L325.2,471.0" stroke-width="1.45"/>
<path d="M41.7,478.8L43.4,478.8L45.1,478.8L46.8,478.8L48.5,478.8M50.4,478.8L52.0,478.8M53.9,478.8L55.7,478.8L57.4,478.8L59.1,478.8L60.8,478.8M62.7,478.8L64.3,478.7M66.2,478.7L67.9,478.7L69.6,478.7L71.3,478.7L73.0,478.7M74.9,478.6L76.5,478.6M78.4,478.6L80.2,478.6L81.9,478.5L83.6,478.5L85.3,478.5M87.2,478.4L88.8,478.4M90.7,478.4L92.4,478.3L94.1,478.3L95.8,478.3L97.5,478.2M99.4,478.2L101.0,478.2M102.9,478.1L104.7,478.1L106.4,478.0L108.1,478.0L109.8,477.9M111.7,477.9L113.3,477.8M115.2,477.7L116.9,477.7L118.6,477.6L120.3,477.5L122.0,477.5M123.9,477.4L125.5,477.3M127.4,477.3L129.1,477.2L130.8,477.1L132.6,477.0L134.3,476.9M136.2,476.8L137.8,476.7M139.7,476.6L141.4,476.5L143.1,476.4L144.8,476.3L146.5,476.2M148.4,476.1L150.0,476.0M151.9,475.8L153.6,475.7L155.3,475.5L157.0,475.4L158.7,475.2M160.6,475.1L162.2,474.9M164.1,474.7L165.8,474.5L167.5,474.3L169.2,474.1L170.9,473.9M172.8,473.6L174.4,473.4M176.3,473.1L178.0,472.9L179.7,472.6L181.4,472.3L183.1,471.9M184.9,471.6L186.5,471.2M188.4,470.8L190.1,470.3L191.7,469.9L193.4,469.4L195.0,468.8M196.9,468.2L198.4,467.6M200.2,466.8L201.7,466.0L203.3,465.1L204.8,464.2L206.3,463.2M207.9,461.9L209.2,460.8M210.7,459.3L211.9,457.9L213.0,456.4L214.1,454.8L215.1,453.1M216.1,451.2L216.8,449.5M217.6,447.4L218.3,445.5L218.9,443.6L219.4,441.6L219.9,439.7M220.4,437.5L220.8,435.6M221.2,433.4L221.6,431.4L221.9,429.3L222.2,427.3L222.4,425.3M222.7,423.0L222.9,421.1M223.2,418.9L223.4,416.8L223.6,414.8L223.7,412.7L223.9,410.7M224.1,408.4L224.2,406.5M224.4,404.2L224.5,402.2L224.6,400.1L224.7,398.1L224.8,396.1M225.0,393.8L225.1,391.9M225.2,389.6L225.3,387.5L225.3,385.5L225.4,383.4L225.5,381.4M225.6,379.1L225.7,377.2M225.7,374.9L225.8,372.8L225.9,370.8L225.9,368.7L226.0,366.7M226.1,364.4L226.1,362.5M226.2,360.2L226.2,358.1L226.3,356.1L226.3,354.0L226.4,352.0M226.4,349.7L226.5,347.8M226.5,345.5L226.5,345.1" stroke-width="1.45"/>
<path d="M231.5,661.3L231.5,659.2L231.5,657.2L231.5,655.1L231.6,653.1M231.6,650.8L231.6,648.9M231.7,646.6L231.7,644.5L231.7,642.5L231.8,640.4L231.8,638.4M231.8,636.1L231.9,634.2M231.9,631.9L231.9,629.8L232.0,627.8L232.0,625.7L232.0,623.7M232.1,621.4L232.1,619.5M232.2,617.2L232.2,615.1L232.3,613.1L232.3,611.1L232.3,609.0M232.4,606.7L232.5,604.8M232.5,602.5L232.6,600.5L232.6,598.4L232.7,596.4L232.7,594.3M232.8,592.0L232.9,590.1M232.9,587.8L233.0,585.8L233.1,583.7L233.2,581.7L233.2,579.6M233.3,577.3L233.4,575.4M233.5,573.1L233.6,571.1L233.7,569.0L233.8,567.0L233.9,564.9M234.0,562.6L234.1,560.8M234.3,558.5L234.4,556.4L234.5,554.4L234.7,552.3L234.8,550.3M235.0,548.0L235.1,546.1M235.3,543.8L235.5,541.8L235.7,539.7L235.9,537.7L236.1,535.7M236.4,533.4L236.6,531.5M237.0,529.2L237.3,527.2L237.6,525.2L237.9,523.2L238.3,521.2M238.8,519.0L239.2,517.1M239.7,514.9L240.2,513.0L240.8,511.1L241.4,509.2L242.1,507.3M243.0,505.2L243.8,503.6M244.8,501.6L245.8,500.0L246.9,498.4L248.0,496.9L249.3,495.5M250.7,494.0L252.0,492.8M253.6,491.6L255.1,490.5L256.6,489.6L258.2,488.7L259.7,487.9M261.5,487.1L263.0,486.5M264.8,485.8L266.5,485.2L268.1,484.7L269.8,484.2L271.4,483.7M273.3,483.2L274.9,482.8M276.8,482.4L278.4,482.0L280.1,481.7L281.8,481.3L283.5,481.0M285.4,480.7L287.0,480.4M288.9,480.1L290.5,479.9L292.2,479.6L293.9,479.4L295.6,479.1M297.5,478.9L299.1,478.7M301.0,478.4L302.7,478.2L304.4,478.0L306.1,477.8L307.8,477.7M309.7,477.4L311.3,477.3M313.2,477.1L314.9,476.9L316.6,476.7L318.3,476.6L320.0,476.4M321.9,476.2L323.5,476.1" stroke-width="1.45"/>
<path d="M41.7,479.6L42.7,479.6L43.7,479.6L44.6,479.6L45.6,479.6L46.5,479.6L47.5,479.6L48.5,479.6L49.4,479.6L50.3,479.6L51.3,479.6L52.2,479.6L53.2,479.6L54.1,479.6L55.0,479.6L55.9,479.6L56.8,479.6L57.8,479.6L58.7,479.6L59.6,479.6L60.5,479.6L61.4,479.6L62.3,479.6L63.1,479.6L64.0,479.6L64.9,479.6L65.8,479.6L66.7,479.6L67.5,479.6L68.4,479.6L69.3,479.6L70.1,479.6L71.0,479.6L71.8,479.5L72.7,479.5L73.5,479.5L74.4,479.5L75.2,479.5L76.0,479.5L76.9,479.5L77.7,479.5L78.5,479.5L79.3,479.5L80.1,479.5L81.0,479.5L81.8,479.5L82.6,479.5L83.4,479.5L84.6,479.5L85.8,479.4L86.9,479.4L88.1,479.4L89.3,479.4L90.4,479.4L91.6,479.4L92.7,479.4L93.9,479.4L95.0,479.3L96.1,479.3L97.2,479.3L98.3,479.3L99.4,479.3L100.5,479.3L101.6,479.3L102.7,479.2L103.8,479.2L104.8,479.2L105.9,479.2L106.9,479.2L108.0,479.2L109.0,479.2L110.1,479.1L111.1,479.1L112.1,479.1L113.1,479.1L114.1,479.1L115.1,479.1L116.1,479.0L117.1,479.0L118.1,479.0L119.0,479.0L120.0,479.0L121.0,478.9L121.9,478.9L122.9,478.9L123.8,478.9L124.8,478.9L125.7,478.8L126.6,478.8L127.5,478.8L128.4,478.8L129.3,478.8L130.2,478.7L131.1,478.7L132.0,478.7L132.9,478.7L133.8,478.7L134.7,478.6L135.5,478.6L136.4,478.6L137.2,478.6L138.1,478.5L138.9,478.5L139.8,478.5L140.6,478.5L141.4,478.5L142.3,478.4L143.1,478.4L143.9,478.4L144.7,478.4L145.5,478.3L146.6,478.3L147.6,478.3L148.7,478.2L149.7,478.2L150.7,478.2L151.7,478.1L152.7,478.1L153.7,478.1L154.7,478.0L155.7,478.0L156.7,477.9L157.6,477.9L158.6,477.9L159.6,477.8L160.5,477.8L161.4,477.8L162.4,477.7L163.3,477.7L164.2,477.6L165.1,477.6L166.0,477.6L166.9,477.5L167.7,477.5L168.6,477.4L169.5,477.4L170.3,477.3L171.2,477.3L172.0,477.3L172.8,477.2L173.7,477.2L174.5,477.1L175.3,477.1L176.1,477.0L176.9,477.0L177.9,476.9L178.9,476.9L179.8,476.8L180.8,476.7L181.8,476.7L182.7,476.6L183.6,476.6L184.5,476.5L185.4,476.4L186.3,476.4L187.2,476.3L188.1,476.2L189.0,476.2L189.8,476.1L190.7,476.0L191.5,476.0L192.4,475.9L193.2,475.8L194.0,475.7L194.8,475.7L195.6,475.6L196.5,475.5L197.5,475.4L198.4,475.3L199.3,475.2L200.2,475.1L201.1,475.0L202.0,474.9L202.8,474.8L203.7,474.8L204.5,474.7L205.4,474.6L206.2,474.4L207.0,474.3L207.8,474.2L208.7,474.1L209.6,474.0L210.5,473.9L211.4,473.7L212.3,473.6L213.1,473.5L214.0,473.3L214.8,473.2L215.6,473.1L216.4,472.9L217.2,472.8L218.1,472.6L219.0,472.4L219.8,472.3L220.7,472.1L221.5,471.9L222.3,471.7L223.1,471.6L223.9,471.4L224.8,471.2L225.6,471.0L226.5,470.7L227.3,470.5L228.1,470.3L228.9,470.1L229.7,469.8L230.5,469.6L231.3,469.3L232.1,469.0L232.9,468.7L233.7,468.4L234.5,468.1L235.2,467.8L236.0,467.5L236.8,467.2L237.6,466.8L238.3,466.4L239.0,466.1L239.7,465.7L240.5,465.3L241.2,464.8L241.9,464.4L242.6,463.9L243.3,463.5L244.0,463.0L244.6,462.5L245.3,462.0L245.9,461.5L246.6,460.9L247.2,460.3L247.8,459.7L248.4,459.1L249.0,458.5L249.5,457.8L250.1,457.1L250.6,456.5L251.1,455.9L251.5,455.2L252.0,454.5L252.4,453.8L252.9,453.1L253.3,452.4L253.7,451.6L254.1,450.8L254.4,450.1L254.8,449.4L255.1,448.6L255.5,447.8L255.8,447.1L256.1,446.2L256.4,445.5L256.7,444.7L256.9,443.9L257.2,443.1L257.5,442.3L257.7,441.5L257.9,440.7L258.2,439.9L258.4,439.1L258.6,438.3L258.8,437.5L259.0,436.6L259.2,435.8L259.4,434.9L259.6,434.1L259.7,433.3L259.9,432.5L260.0,431.6L260.2,430.8L260.4,429.9L260.5,429.0L260.7,428.1L260.8,427.3L260.9,426.5L261.0,425.7L261.2,424.9L261.3,424.0L261.4,423.2L261.5,422.3L261.7,421.4L261.8,420.5L261.9,419.6L262.0,418.7L262.1,417.9L262.2,417.1L262.3,416.3L262.4,415.4L262.5,414.6L262.5,413.7L262.6,412.9L262.7,412.0L262.8,411.1L262.9,410.2L263.0,409.3L263.1,408.4L263.1,407.4L263.2,406.5L263.3,405.7L263.3,404.9L263.4,404.0L263.5,403.2L263.5,402.4L263.6,401.5L263.7,400.7L263.7,399.8L263.8,399.0L263.8,398.1L263.9,397.2L264.0,396.3L264.0,395.4L264.1,394.5L264.1,393.5L264.2,392.6L264.2,391.7L264.3,390.7L264.3,389.7L264.4,388.8L264.5,387.8L264.5,386.8L264.5,386.0L264.6,385.1L264.6,384.3L264.7,383.5L264.7,382.7L264.8,381.8L264.8,381.0L264.8,380.1L264.9,379.2L264.9,378.4L264.9,377.5L265.0,376.6L265.0,375.7L265.1,374.8L265.1,373.9L265.1,373.0L265.2,372.1L265.2,371.1L265.2,370.2L265.3,369.2L265.3,368.3L265.3,367.3L265.4,366.3L265.4,365.4L265.4,364.4L265.5,363.4L265.5,362.4L265.5,361.3L265.6,360.3L265.6,359.3L265.6,358.2L265.7,357.2L265.7,356.1L265.7,355.3L265.8,354.5L265.8,353.7L265.8,352.9L265.8,352.1L265.8,351.2L265.9,350.4L265.9,349.6L265.9,348.7L265.9,347.9L266.0,347.0L266.0,346.1L266.0,345.3L266.0,345.0" stroke-width="1.5"/>
<path d="M272.5,661.4L272.5,660.3L272.5,659.3L272.5,658.2L272.5,657.2L272.5,656.1L272.6,655.1L272.6,654.1L272.6,653.1L272.6,652.1L272.6,651.0L272.6,650.0L272.6,649.0L272.6,648.1L272.7,647.1L272.7,646.1L272.7,645.1L272.7,644.2L272.7,643.2L272.7,642.2L272.7,641.3L272.7,640.3L272.8,639.4L272.8,638.5L272.8,637.5L272.8,636.6L272.8,635.7L272.8,634.8L272.8,633.9L272.9,633.0L272.9,632.1L272.9,631.2L272.9,630.3L272.9,629.4L272.9,628.5L272.9,627.7L273.0,626.8L273.0,625.9L273.0,625.1L273.0,624.2L273.0,623.4L273.0,622.5L273.0,621.7L273.1,620.9L273.1,620.0L273.1,619.2L273.1,618.4L273.1,617.6L273.1,616.8L273.2,616.0L273.2,615.2L273.2,614.1L273.2,613.0L273.2,612.0L273.3,611.0L273.3,609.9L273.3,608.9L273.3,607.9L273.3,606.9L273.4,605.9L273.4,604.9L273.4,603.9L273.4,603.0L273.5,602.0L273.5,601.0L273.5,600.1L273.5,599.1L273.6,598.2L273.6,597.3L273.6,596.3L273.6,595.4L273.6,594.5L273.7,593.6L273.7,592.7L273.7,591.8L273.8,590.9L273.8,590.1L273.8,589.2L273.8,588.3L273.9,587.5L273.9,586.6L273.9,585.8L273.9,584.9L274.0,584.1L274.0,583.3L274.0,582.5L274.0,581.7L274.1,580.9L274.1,579.9L274.1,578.9L274.2,577.9L274.2,576.9L274.2,576.0L274.3,575.0L274.3,574.1L274.4,573.1L274.4,572.2L274.4,571.3L274.5,570.4L274.5,569.5L274.6,568.6L274.6,567.7L274.6,566.9L274.7,566.0L274.7,565.1L274.8,564.3L274.8,563.4L274.8,562.6L274.9,561.8L274.9,561.0L275.0,560.2L275.0,559.4L275.1,558.4L275.1,557.5L275.2,556.5L275.2,555.6L275.3,554.7L275.3,553.8L275.4,552.9L275.5,552.1L275.5,551.2L275.6,550.3L275.6,549.5L275.7,548.7L275.8,547.8L275.8,547.0L275.9,546.2L275.9,545.4L276.0,544.5L276.1,543.6L276.2,542.7L276.2,541.8L276.3,540.9L276.4,540.0L276.5,539.2L276.6,538.4L276.6,537.5L276.7,536.7L276.8,535.9L276.9,535.1L277.0,534.2L277.1,533.3L277.2,532.5L277.3,531.6L277.4,530.8L277.5,529.9L277.6,529.1L277.7,528.3L277.9,527.5L278.0,526.6L278.1,525.8L278.3,524.9L278.4,524.1L278.5,523.3L278.7,522.5L278.8,521.7L279.0,520.8L279.1,520.0L279.3,519.1L279.5,518.3L279.7,517.5L279.8,516.7L280.0,515.9L280.2,515.1L280.5,514.3L280.7,513.5L280.9,512.7L281.1,511.9L281.4,511.0L281.6,510.2L281.9,509.5L282.2,508.7L282.5,507.9L282.8,507.1L283.1,506.4L283.4,505.6L283.7,504.9L284.1,504.1L284.5,503.4L284.9,502.6L285.2,501.9L285.7,501.2L286.1,500.5L286.6,499.8L287.0,499.1L287.5,498.5L288.0,497.9L288.5,497.2L289.1,496.6L289.7,496.0L290.3,495.4L290.9,494.8L291.5,494.2L292.2,493.7L292.8,493.2L293.4,492.8L294.1,492.3L294.8,491.8L295.5,491.4L296.2,491.0L296.9,490.6L297.7,490.2L298.4,489.8L299.2,489.5L299.9,489.1L300.7,488.8L301.5,488.5L302.2,488.2L303.0,487.9L303.8,487.6L304.6,487.4L305.4,487.1L306.2,486.9L307.0,486.6L307.8,486.4L308.6,486.2L309.4,486.0L310.2,485.8L311.1,485.6L311.8,485.4L312.6,485.2L313.5,485.1L314.3,484.9L315.1,484.7L316.0,484.6L316.8,484.4L317.6,484.3L318.4,484.1L319.3,484.0L320.1,483.9L321.0,483.7L321.8,483.6L322.6,483.5L323.4,483.4L324.3,483.3L325.1,483.2L325.2,483.2" stroke-width="1.5"/>
<path d="M41.7,480.4L43.0,480.4M44.4,480.4L45.7,480.4M47.0,480.4L48.4,480.4M49.7,480.4L51.0,480.4M52.4,480.4L53.7,480.4M55.0,480.4L56.4,480.4M57.7,480.4L59.0,480.4M60.4,480.3L61.7,480.3M63.0,480.3L64.4,480.3M65.7,480.3L67.0,480.3M68.4,480.3L69.7,480.3M71.0,480.3L72.4,480.3M73.7,480.3L75.0,480.3M76.4,480.3L77.7,480.3M79.0,480.2L80.4,480.2M81.7,480.2L83.0,480.2M84.4,480.2L85.7,480.2M87.0,480.2L88.4,480.2M89.7,480.2L91.0,480.1M92.4,480.1L93.7,480.1M95.0,480.1L96.4,480.1M97.7,480.1L99.0,480.0M100.4,480.0L101.7,480.0M103.0,480.0L104.4,480.0M105.7,480.0L107.0,479.9M108.4,479.9L109.7,479.9M111.0,479.9L112.4,479.9M113.7,479.8L115.0,479.8M116.4,479.8L117.7,479.8M119.0,479.7L120.4,479.7M121.7,479.7L123.0,479.7M124.4,479.6L125.7,479.6M127.0,479.6L128.4,479.6M129.7,479.5L131.0,479.5M132.4,479.5L133.7,479.4M135.0,479.4L136.4,479.4M137.7,479.3L139.0,479.3M140.4,479.3L141.7,479.2M143.0,479.2L144.4,479.1M145.7,479.1L147.0,479.1M148.4,479.0L149.7,479.0M151.0,478.9L152.4,478.9M153.7,478.8L155.0,478.8M156.4,478.8L157.7,478.7M159.0,478.6L160.4,478.6M161.7,478.5L163.0,478.5M164.4,478.4L165.7,478.4M167.0,478.3L168.3,478.2M169.7,478.2L171.0,478.1M172.3,478.1L173.7,478.0M175.0,477.9L176.3,477.8M177.7,477.8L179.0,477.7M180.3,477.6L181.7,477.5M183.0,477.4L184.3,477.4M185.7,477.3L187.0,477.2M188.3,477.1L189.7,477.0M191.0,476.9L192.3,476.8M193.6,476.7L195.0,476.5M196.3,476.4L197.6,476.3M199.0,476.2L200.3,476.0M201.6,475.9L202.9,475.8M204.3,475.6L205.6,475.5M206.9,475.3L208.3,475.2M209.6,475.0L210.9,474.8M212.2,474.6L213.6,474.4M214.9,474.2L216.2,474.0M217.5,473.8L218.8,473.6M220.2,473.3L221.5,473.1M222.8,472.8L224.1,472.5M225.4,472.2L226.7,471.9M228.0,471.6L229.3,471.2M230.6,470.9L231.9,470.5M233.2,470.1L234.5,469.6M235.8,469.2L237.0,468.7M238.3,468.1L239.5,467.6M240.8,467.0L242.0,466.3M243.2,465.7L244.4,464.9M245.6,464.2L246.7,463.3M247.8,462.4L248.9,461.5M249.9,460.5L250.9,459.5M251.9,458.4L252.8,457.2M253.7,456.0L254.5,454.8M255.3,453.5L256.1,452.1M256.8,450.8L257.4,449.4M258.0,447.9L258.6,446.5M259.1,445.0L259.6,443.5M260.1,442.0L260.5,440.5M260.9,439.0L261.3,437.5M261.6,435.9L262.0,434.4M262.3,432.8L262.6,431.3M262.9,429.7L263.1,428.1M263.4,426.6L263.6,425.0M263.8,423.4L264.0,421.8M264.2,420.2L264.4,418.7M264.6,417.1L264.8,415.5M264.9,413.9L265.1,412.3M265.3,410.7L265.4,409.1M265.5,407.5L265.7,405.9M265.8,404.3L265.9,402.8M266.0,401.2L266.1,399.6M266.3,398.0L266.4,396.4M266.5,394.8L266.6,393.2M266.6,391.6L266.7,390.0M266.8,388.4L266.9,386.8M267.0,385.2L267.1,383.6M267.1,382.0L267.2,380.4M267.3,378.8L267.4,377.2M267.4,375.6L267.5,374.0M267.6,372.4L267.6,370.8M267.7,369.2L267.7,367.6M267.8,366.0L267.8,364.4M267.9,362.8L267.9,361.2M268.0,359.6L268.0,358.0M268.1,356.4L268.1,354.8M268.2,353.2L268.2,351.6M268.3,350.0L268.3,348.4M268.4,346.8L268.4,345.2" stroke-width="1.4"/>
<path d="M275.9,661.3L275.9,659.7M275.9,658.1L275.9,656.5M275.9,654.9L276.0,653.3M276.0,651.7L276.0,650.1M276.0,648.5L276.0,646.9M276.1,645.3L276.1,643.7M276.1,642.1L276.1,640.5M276.1,638.9L276.2,637.3M276.2,635.7L276.2,634.1M276.2,632.5L276.3,630.9M276.3,629.3L276.3,627.7M276.4,626.1L276.4,624.5M276.4,622.9L276.4,621.3M276.5,619.7L276.5,618.1M276.5,616.5L276.6,615.0M276.6,613.4L276.6,611.8M276.7,610.2L276.7,608.6M276.7,607.0L276.8,605.4M276.8,603.8L276.8,602.2M276.9,600.6L276.9,599.0M277.0,597.4L277.0,595.8M277.1,594.2L277.1,592.6M277.1,591.0L277.2,589.4M277.2,587.8L277.3,586.2M277.3,584.6L277.4,583.0M277.5,581.4L277.5,579.8M277.6,578.2L277.6,576.6M277.7,575.0L277.8,573.4M277.8,571.8L277.9,570.2M278.0,568.6L278.0,567.0M278.1,565.4L278.2,563.8M278.3,562.2L278.4,560.6M278.5,559.0L278.5,557.4M278.6,555.8L278.7,554.2M278.8,552.6L279.0,551.0M279.1,549.4L279.2,547.8M279.3,546.2L279.4,544.7M279.6,543.1L279.7,541.5M279.9,539.9L280.0,538.3M280.2,536.7L280.4,535.1M280.5,533.5L280.7,531.9M280.9,530.4L281.2,528.8M281.4,527.2L281.6,525.6M281.9,524.1L282.2,522.5M282.5,520.9L282.8,519.4M283.1,517.8L283.5,516.3M283.9,514.8L284.3,513.2M284.7,511.7L285.2,510.2M285.7,508.8L286.3,507.3M286.9,505.9L287.5,504.5M288.2,503.1L289.0,501.8M289.8,500.5L290.7,499.3M291.6,498.1L292.5,497.0M293.5,496.0L294.6,495.0M295.7,494.1L296.8,493.2M297.9,492.4L299.1,491.7M300.3,491.0L301.6,490.3M302.8,489.7L304.0,489.2M305.3,488.7L306.6,488.2M307.9,487.8L309.1,487.3M310.4,487.0L311.7,486.6M313.0,486.3L314.4,485.9M315.7,485.7L317.0,485.4M318.3,485.1L319.6,484.9M320.9,484.6L322.2,484.4M323.6,484.2L324.9,484.0" stroke-width="1.4"/>
</g>
<line x1="41.7" y1="503.30" x2="325.2" y2="503.30" stroke-width="1.5"/>
<rect x="41.7" y="353.8" width="283.5" height="298.7" stroke-width="1.5"/>
<line x1="38.30" y1="652.50" x2="44.90" y2="652.50" stroke-width="1.2"/>
<line x1="40.20" y1="637.57" x2="43.00" y2="637.57" stroke-width="1.6"/>
<line x1="38.30" y1="622.63" x2="44.90" y2="622.63" stroke-width="1.2"/>
<line x1="40.20" y1="607.70" x2="43.00" y2="607.70" stroke-width="1.6"/>
<line x1="38.30" y1="592.76" x2="44.90" y2="592.76" stroke-width="1.2"/>
<line x1="40.20" y1="577.83" x2="43.00" y2="577.83" stroke-width="1.6"/>
<line x1="38.30" y1="562.89" x2="44.90" y2="562.89" stroke-width="1.2"/>
<line x1="40.20" y1="547.96" x2="43.00" y2="547.96" stroke-width="1.6"/>
<line x1="38.30" y1="533.02" x2="44.90" y2="533.02" stroke-width="1.2"/>
<line x1="40.20" y1="518.09" x2="43.00" y2="518.09" stroke-width="1.6"/>
<line x1="38.30" y1="503.15" x2="44.90" y2="503.15" stroke-width="1.2"/>
<line x1="40.20" y1="488.22" x2="43.00" y2="488.22" stroke-width="1.6"/>
<line x1="38.30" y1="473.28" x2="44.90" y2="473.28" stroke-width="1.2"/>
<line x1="40.20" y1="458.35" x2="43.00" y2="458.35" stroke-width="1.6"/>
<line x1="38.30" y1="443.41" x2="44.90" y2="443.41" stroke-width="1.2"/>
<line x1="40.20" y1="428.48" x2="43.00" y2="428.48" stroke-width="1.6"/>
<line x1="38.30" y1="413.54" x2="44.90" y2="413.54" stroke-width="1.2"/>
<line x1="40.20" y1="398.61" x2="43.00" y2="398.61" stroke-width="1.6"/>
<line x1="38.30" y1="383.67" x2="44.90" y2="383.67" stroke-width="1.2"/>
<line x1="40.20" y1="368.74" x2="43.00" y2="368.74" stroke-width="1.6"/>
<line x1="38.30" y1="353.80" x2="44.90" y2="353.80" stroke-width="1.2"/>
<line x1="41.70" y1="649.30" x2="41.70" y2="655.90" stroke-width="1.2"/>
<line x1="47.37" y1="651.20" x2="47.37" y2="654.00" stroke-width="1.6"/>
<line x1="53.04" y1="651.20" x2="53.04" y2="654.00" stroke-width="1.6"/>
<line x1="58.71" y1="651.20" x2="58.71" y2="654.00" stroke-width="1.6"/>
<line x1="64.38" y1="651.20" x2="64.38" y2="654.00" stroke-width="1.6"/>
<line x1="70.05" y1="651.20" x2="70.05" y2="654.00" stroke-width="1.6"/>
<line x1="75.72" y1="651.20" x2="75.72" y2="654.00" stroke-width="1.6"/>
<line x1="81.39" y1="651.20" x2="81.39" y2="654.00" stroke-width="1.6"/>
<line x1="87.06" y1="651.20" x2="87.06" y2="654.00" stroke-width="1.6"/>
<line x1="92.73" y1="651.20" x2="92.73" y2="654.00" stroke-width="1.6"/>
<line x1="98.40" y1="649.30" x2="98.40" y2="655.90" stroke-width="1.2"/>
<line x1="104.07" y1="651.20" x2="104.07" y2="654.00" stroke-width="1.6"/>
<line x1="109.74" y1="651.20" x2="109.74" y2="654.00" stroke-width="1.6"/>
<line x1="115.41" y1="651.20" x2="115.41" y2="654.00" stroke-width="1.6"/>
<line x1="121.08" y1="651.20" x2="121.08" y2="654.00" stroke-width="1.6"/>
<line x1="126.75" y1="651.20" x2="126.75" y2="654.00" stroke-width="1.6"/>
<line x1="132.42" y1="651.20" x2="132.42" y2="654.00" stroke-width="1.6"/>
<line x1="138.09" y1="651.20" x2="138.09" y2="654.00" stroke-width="1.6"/>
<line x1="143.76" y1="651.20" x2="143.76" y2="654.00" stroke-width="1.6"/>
<line x1="149.43" y1="651.20" x2="149.43" y2="654.00" stroke-width="1.6"/>
<line x1="155.10" y1="649.30" x2="155.10" y2="655.90" stroke-width="1.2"/>
<line x1="160.77" y1="651.20" x2="160.77" y2="654.00" stroke-width="1.6"/>
<line x1="166.44" y1="651.20" x2="166.44" y2="654.00" stroke-width="1.6"/>
<line x1="172.11" y1="651.20" x2="172.11" y2="654.00" stroke-width="1.6"/>
<line x1="177.78" y1="651.20" x2="177.78" y2="654.00" stroke-width="1.6"/>
<line x1="183.45" y1="651.20" x2="183.45" y2="654.00" stroke-width="1.6"/>
<line x1="189.12" y1="651.20" x2="189.12" y2="654.00" stroke-width="1.6"/>
<line x1="194.79" y1="651.20" x2="194.79" y2="654.00" stroke-width="1.6"/>
<line x1="200.46" y1="651.20" x2="200.46" y2="654.00" stroke-width="1.6"/>
<line x1="206.13" y1="651.20" x2="206.13" y2="654.00" stroke-width="1.6"/>
<line x1="211.80" y1="649.30" x2="211.80" y2="655.90" stroke-width="1.2"/>
<line x1="217.47" y1="651.20" x2="217.47" y2="654.00" stroke-width="1.6"/>
<line x1="223.14" y1="651.20" x2="223.14" y2="654.00" stroke-width="1.6"/>
<line x1="228.81" y1="651.20" x2="228.81" y2="654.00" stroke-width="1.6"/>
<line x1="234.48" y1="651.20" x2="234.48" y2="654.00" stroke-width="1.6"/>
<line x1="240.15" y1="651.20" x2="240.15" y2="654.00" stroke-width="1.6"/>
<line x1="245.82" y1="651.20" x2="245.82" y2="654.00" stroke-width="1.6"/>
<line x1="251.49" y1="651.20" x2="251.49" y2="654.00" stroke-width="1.6"/>
<line x1="257.16" y1="651.20" x2="257.16" y2="654.00" stroke-width="1.6"/>
<line x1="262.83" y1="651.20" x2="262.83" y2="654.00" stroke-width="1.6"/>
<line x1="268.50" y1="649.30" x2="268.50" y2="655.90" stroke-width="1.2"/>
<line x1="274.17" y1="651.20" x2="274.17" y2="654.00" stroke-width="1.6"/>
<line x1="279.84" y1="651.20" x2="279.84" y2="654.00" stroke-width="1.6"/>
<line x1="285.51" y1="651.20" x2="285.51" y2="654.00" stroke-width="1.6"/>
<line x1="291.18" y1="651.20" x2="291.18" y2="654.00" stroke-width="1.6"/>
<line x1="296.85" y1="651.20" x2="296.85" y2="654.00" stroke-width="1.6"/>
<line x1="302.52" y1="651.20" x2="302.52" y2="654.00" stroke-width="1.6"/>
<line x1="308.19" y1="651.20" x2="308.19" y2="654.00" stroke-width="1.6"/>
<line x1="313.86" y1="651.20" x2="313.86" y2="654.00" stroke-width="1.6"/>
<line x1="319.53" y1="651.20" x2="319.53" y2="654.00" stroke-width="1.6"/>
<line x1="325.20" y1="649.30" x2="325.20" y2="655.90" stroke-width="1.2"/>
</g>
<g class="t" fill="#000" stroke="#000" stroke-width="0.15">
<text transform="translate(33.30,656.50)" font-size="10.2" text-anchor="end">-10</text>
<text transform="translate(33.30,626.63)" font-size="10.2" text-anchor="end">-8</text>
<text transform="translate(33.30,596.76)" font-size="10.2" text-anchor="end">-6</text>
<text transform="translate(33.30,566.89)" font-size="10.2" text-anchor="end">-4</text>
<text transform="translate(33.30,537.02)" font-size="10.2" text-anchor="end">-2</text>
<text transform="translate(33.30,507.15)" font-size="10.2" text-anchor="end">0</text>
<text transform="translate(33.30,477.28)" font-size="10.2" text-anchor="end">2</text>
<text transform="translate(33.30,447.41)" font-size="10.2" text-anchor="end">4</text>
<text transform="translate(33.30,417.54)" font-size="10.2" text-anchor="end">6</text>
<text transform="translate(33.30,387.67)" font-size="10.2" text-anchor="end">8</text>
<text transform="translate(33.30,357.80)" font-size="10.2" text-anchor="end">10</text>
<text transform="translate(41.70,666.00)" font-size="10.2" text-anchor="middle">0</text>
<text transform="translate(98.40,666.00)" font-size="10.2" text-anchor="middle">0.1</text>
<text transform="translate(155.10,666.00)" font-size="10.2" text-anchor="middle">0.2</text>
<text transform="translate(211.80,666.00)" font-size="10.2" text-anchor="middle">0.3</text>
<text transform="translate(268.50,666.00)" font-size="10.2" text-anchor="middle">0.4</text>
<text transform="translate(325.20,666.00)" font-size="10.2" text-anchor="middle">0.5</text>
<text transform="translate(10.90,534.80) rotate(-90)" font-size="12" text-anchor="start">α<tspan font-size="8" dy="2.6">ZZ</tspan><tspan dy="-2.6">(ω) [a.u.]</tspan></text>
<text transform="translate(184.00,680.80)" font-size="11.9" text-anchor="middle">ω [a.u]</text>
<text transform="translate(2.20,682.60)" font-size="10.5" text-anchor="start">(b)</text>
</g></svg></body></html>
